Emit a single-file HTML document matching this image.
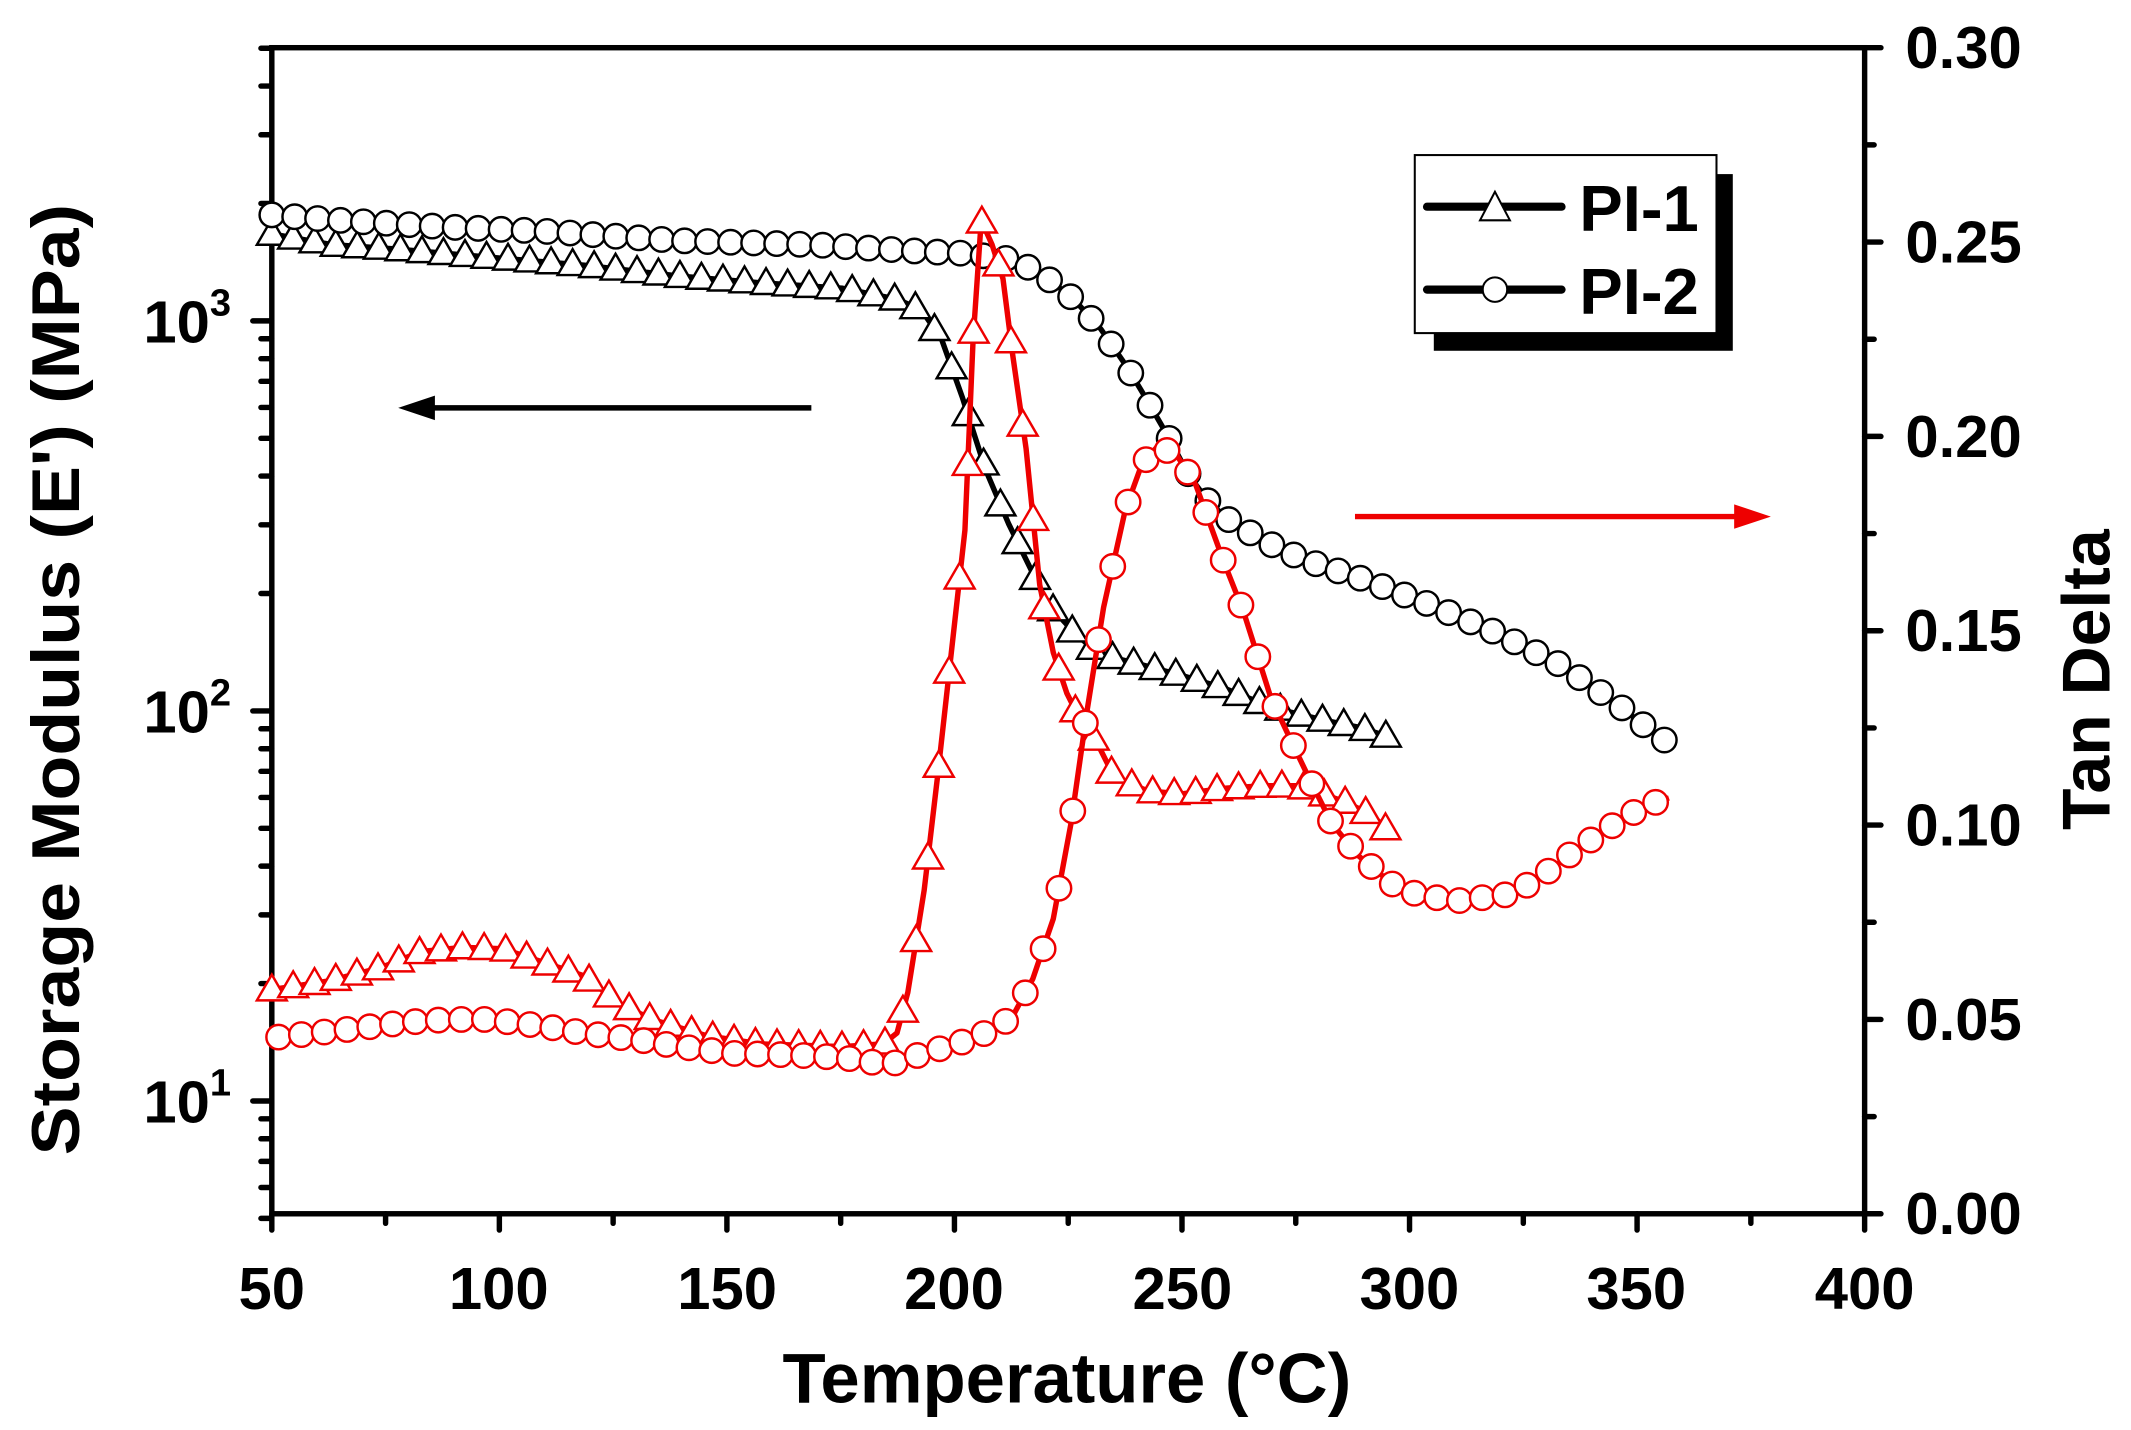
<!DOCTYPE html>
<html><head><meta charset="utf-8"><style>
html,body{margin:0;padding:0;background:#fff;}
svg{display:block;}
text{font-family:"Liberation Sans",Arial,sans-serif;font-weight:bold;fill:#000;}
</style></head><body>
<svg id="s" width="2131" height="1430" viewBox="0 0 1568 1052" xmlns="http://www.w3.org/2000/svg">
<rect x="0" y="0" width="1568" height="1052" fill="#fff"/>
<g id="ax" stroke="#000" stroke-width="4" fill="none" stroke-linecap="round">
<rect x="200" y="35" width="1172" height="858"/>
</g>
<g id="ticks" stroke="#000" stroke-width="4" stroke-linecap="round"></g>
<g id="series"></g>
<g font-size="44" text-anchor="middle">
<text x="200" y="963">50</text><text x="367" y="963">100</text><text x="535" y="963">150</text><text x="702" y="963">200</text><text x="870" y="963">250</text><text x="1037" y="963">300</text><text x="1204" y="963">350</text><text x="1372" y="963">400</text>
</g>
<g font-size="44" text-anchor="start">
<text x="1402" y="50">0.30</text><text x="1402" y="193">0.25</text><text x="1402" y="336">0.20</text><text x="1402" y="479">0.15</text><text x="1402" y="622">0.10</text><text x="1402" y="765">0.05</text><text x="1402" y="908">0.00</text>
</g>
<g font-size="44" text-anchor="end">
<text x="170" y="252">10<tspan dy="-20" font-size="28">3</tspan></text>
<text x="170" y="539">10<tspan dy="-20" font-size="28">2</tspan></text>
<text x="170" y="826">10<tspan dy="-20" font-size="28">1</tspan></text>
</g>
<text x="785" y="1032" font-size="52" text-anchor="middle">Temperature (°C)</text>
<text transform="translate(58,500) rotate(-90)" font-size="50" text-anchor="middle" textLength="700" lengthAdjust="spacingAndGlyphs">Storage Modulus (E') (MPa)</text>
<text transform="translate(1552,500) rotate(-90)" font-size="50" text-anchor="middle">Tan Delta</text>
<line x1="597" y1="300" x2="305" y2="300" stroke="#000" stroke-width="4"/>
<polygon points="293,300 320,291 320,309" fill="#000"/>
<line x1="997" y1="380" x2="1290" y2="380" stroke="#e00" stroke-width="4"/>
<polygon points="1303,380 1276,371 1276,389" fill="#e00"/>
<rect x="1055" y="128" width="220" height="130" fill="#000"/>
<rect x="1041" y="114" width="222" height="131" fill="#fff" stroke="#000" stroke-width="1.5"/>
<line x1="1050" y1="152" x2="1149" y2="152" stroke="#000" stroke-width="6" stroke-linecap="round"/>
<polygon points="1100,141 1089,162 1111,162" fill="#fff" stroke="#000" stroke-width="1.5"/>
<line x1="1050" y1="213" x2="1149" y2="213" stroke="#000" stroke-width="6" stroke-linecap="round"/>
<circle cx="1100" cy="213" r="9" fill="#fff" stroke="#000" stroke-width="1.5"/>
<text x="1162" y="170" font-size="48">PI-1</text>
<text x="1162" y="231" font-size="48">PI-2</text>
</svg>
<script>
var NS="http://www.w3.org/2000/svg";
function el(t,a,p){var e=document.createElementNS(NS,t);for(var k in a)e.setAttribute(k,a[k]);p.appendChild(e);return e;}
var tk=document.getElementById('ticks');
for(var i=0;i<=14;i++){var x=200+i*1172/14;var L=(i%2==0)?12:7;el('line',{x1:x,y1:893,x2:x,y2:893+L},tk);}
for(var i=0;i<=12;i++){var y=893-i*858/12;var L=(i%2==0)?12:7;el('line',{x1:1372,y1:y,x2:1372+L,y2:y},tk);}
function ly(v){return 236-(Math.log10(v)-3)*287;}
[1,2,3].forEach(function(d){for(var m=1;m<10;m++){var v=m*Math.pow(10,d);if(v<5||v>5000)continue;var y=ly(v);var L=(m==1)?14:8;el('line',{x1:200,y1:y,x2:200-L,y2:y},tk);}});
[5,6,7,8,9].forEach(function(m){var y=ly(m);el('line',{x1:200,y1:y,x2:192,y2:y},tk);});
var sg=document.getElementById('series');
function ser(pts,col,mk,sp){
 el('polyline',{points:pts.map(function(p){return p.join(',')}).join(' '),fill:'none',stroke:col,'stroke-width':4,'stroke-linejoin':'round'},sg);
 var acc=0,next=0;
 for(var i=0;i<pts.length-1;i++){var a=pts[i],b=pts[i+1];var dx=b[0]-a[0],dy=b[1]-a[1];var d=Math.abs(dx)+Math.abs(dy)*0.12;
  while(next<=acc+d){var t=(next-acc)/d;var x=a[0]+dx*t,y=a[1]+dy*t;
   if(mk=='c')el('circle',{cx:x,cy:y,r:9,fill:'#fff',stroke:col,'stroke-width':1.8},sg);
   else el('polygon',{points:x+','+(y-11)+' '+(x-11)+','+(y+8)+' '+(x+11)+','+(y+8),fill:'#fff',stroke:col,'stroke-width':1.8},sg);
   next+=sp;}
  acc+=d;}
}
var b1=[[200,172],[245,180],[290,183],[370,190],[430,195],[500,203],[560,208],[620,212],[660,220],[678,228],[693,250],[708,292],[725,345],[742,385],[763,428],[770,443],[790,465],[805,478],[820,484],[840,489],[870,497],[900,506],[925,516],[950,524],[975,530],[1000,535],[1025,543]];
var b2=[[200,158],[250,162],[330,167],[400,170],[500,177],[600,180],[680,185],[705,186],[740,190],[765,200],[790,220],[810,242],[830,271],[845,296],[860,322],[875,350],[890,370],[905,383],[930,398],[960,412],[1000,425],[1050,444],[1100,465],[1150,490],[1190,518],[1215,538],[1230,548]];
var r1=[[200,728],[240,722],[280,712],[310,700],[340,697],[370,698],[400,708],[430,718],[455,738],[480,750],[520,762],[560,768],[620,770],[650,768],[660,760],[668,730],[680,655],[690,570],[700,480],[710,390],[716,250],[722,162],[730,180],[738,205],[745,260],[755,330],[765,430],[775,480],[785,510],[795,530],[808,548],[820,572],[845,582],[870,584],[900,580],[930,578],[955,578],[970,583],[990,590],[1010,600],[1020,610]];
var r2=[[205,763],[250,758],[300,752],[330,750],[360,750],[400,755],[430,760],[470,765],[500,770],[540,775],[580,776],[620,778],[645,782],[660,782],[670,778],[690,772],[710,766],[730,758],[745,748],[760,720],[775,676],[788,606],[800,522],[812,447],[828,375],[840,342],[852,328],[866,335],[880,357],[900,412],[915,450],[935,513],[950,545],[963,572],[980,606],[1000,630],[1030,655],[1070,663],[1110,658],[1130,648],[1160,625],[1190,605],[1210,593],[1228,587]];
ser(b1,'#000','t',16);ser(b2,'#000','c',17);ser(r1,'#e00','t',16);ser(r2,'#e00','c',17);
</script>
</body></html>
